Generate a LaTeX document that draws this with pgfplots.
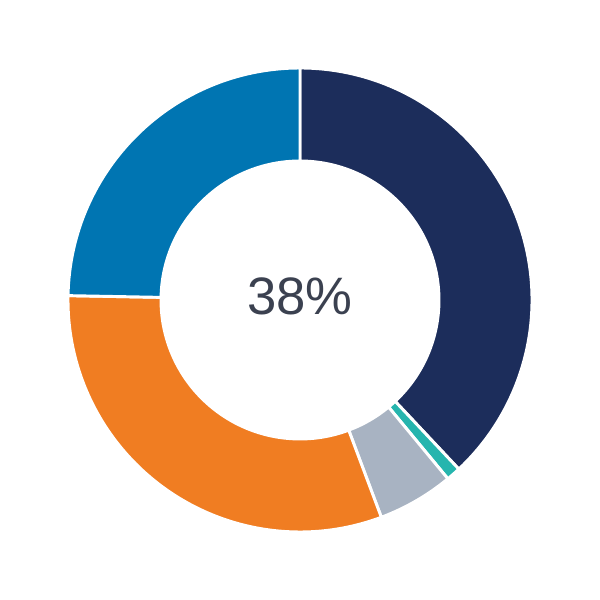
\documentclass[border=0pt]{standalone}
\usepackage{pgfplots}
\usepackage{pgfplotstable}
\pgfplotsset{compat=1.18}
\usepackage{fontspec}
\setmainfont{Liberation Sans}

\definecolor{segnavy}{HTML}{1C2D5B}
\definecolor{segteal}{HTML}{26B5AE}
\definecolor{seggray}{HTML}{A8B3C2}
\definecolor{segorange}{HTML}{F07D22}
\definecolor{segblue}{HTML}{0075B2}
\definecolor{textgray}{HTML}{3B4150}

% shares in percent, clockwise from 12 o'clock
\pgfplotstableread{
share color
38   segnavy
1    segteal
5.3  seggray
31   segorange
24.7 segblue
}\donutdata

\begin{document}
\begin{tikzpicture}
\begin{axis}[
    hide axis,
    scale only axis,
    width=450pt, height=450pt,
    xmin=-300, xmax=300,
    ymin=-300, ymax=300,
    clip=false,
]
\pgfplotsextra{
  \xdef\cum{0}
  \pgfplotstablegetrowsof{\donutdata}
  \pgfmathtruncatemacro\lastrow{\pgfplotsretval-1}
  \foreach \i in {0,...,\lastrow}{
    \pgfplotstablegetelem{\i}{share}\of\donutdata \let\v\pgfplotsretval
    \pgfplotstablegetelem{\i}{color}\of\donutdata \let\c\pgfplotsretval
    \pgfmathsetmacro\aa{90-3.6*\cum}
    \pgfmathsetmacro\ab{90-3.6*(\cum+\v)}
    % 1 axis unit = 0.75pt: outer 232, inner 139
    \fill[fill=\c, draw=white, line width=2.2pt, line join=miter]
      (axis cs:{232*cos(\aa)},{232*sin(\aa)})
      arc[start angle=\aa, end angle=\ab, radius=174pt]
      -- (axis cs:{139*cos(\ab)},{139*sin(\ab)})
      arc[start angle=\ab, end angle=\aa, radius=104.25pt]
      -- cycle;
    \pgfmathsetmacro\newcum{\cum+\v}
    \xdef\cum{\newcum}
  }
}
\node[text=textgray, font=\fontsize{39.5}{40}\selectfont] at (axis cs:0,4) {38\%};
\end{axis}
\path (current axis.south west) rectangle (current axis.north east);
\end{tikzpicture}
\end{document}
